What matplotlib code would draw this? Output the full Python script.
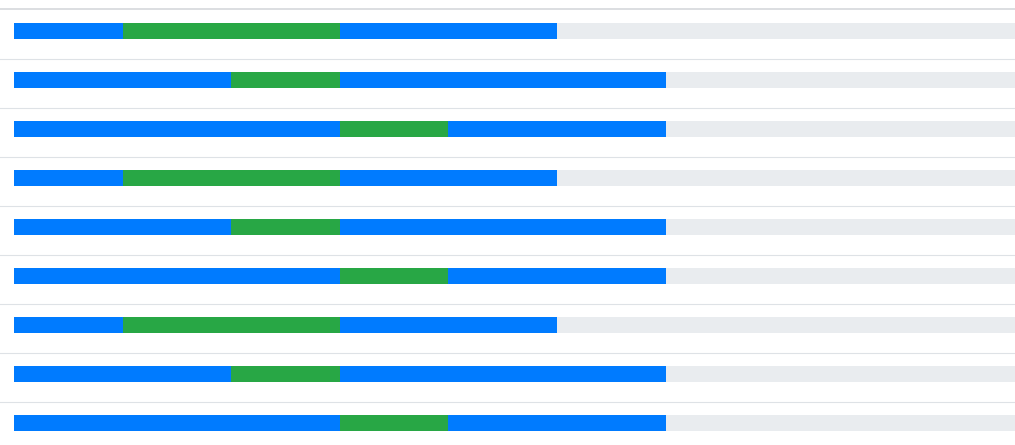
import matplotlib
matplotlib.use("Agg")
import matplotlib.pyplot as plt

rows = list(range(9))
seg1 = [1, 2, 3, 1, 2, 3, 1, 2, 3]   # blue
seg2 = [2, 1, 1, 2, 1, 1, 2, 1, 1]   # green
seg3 = [2, 3, 2, 2, 3, 2, 2, 3, 2]   # blue
track_total = 10

BLUE = "#007bff"
GREEN = "#28a745"
TRACK = "#e9ecef"

W, H = 1015, 445
fig = plt.figure(figsize=(W/100, H/100), dpi=100)
ax = fig.add_axes([0, 0, 1, 1])
unit = 108.6
x0 = 14
ax.set_xlim(-x0/unit, (W - x0)/unit)
pitch = 49.0
c0 = 31.0
ax.set_ylim((H - c0)/pitch, -c0/pitch)
ax.axis("off")

h = 16/pitch
ax.barh(rows, [track_total]*9, height=h, color=TRACK, zorder=1)
ax.barh(rows, seg1, height=h, color=BLUE, zorder=2)
left2 = seg1
ax.barh(rows, seg2, left=left2, height=h, color=GREEN, zorder=2)
left3 = [a + b for a, b in zip(seg1, seg2)]
ax.barh(rows, seg3, left=left3, height=h, color=BLUE, zorder=2)

ax.axhline((9 - c0)/pitch, color="#d6d8db", lw=1.2, zorder=0)
for k in range(8):
    ax.axhline((59 - c0)/pitch + k, color="#dee2e6", lw=0.8, zorder=0)

fig.savefig("out.png", dpi=100)
